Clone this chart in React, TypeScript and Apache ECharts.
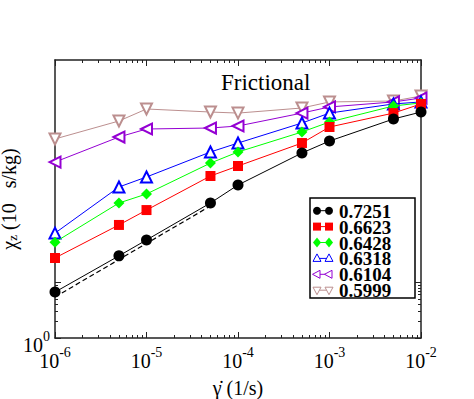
import React, { useEffect, useRef } from "react";
import * as echarts from "echarts";

// ---- data ----
const shearRates = [1e-6, 5e-6, 1e-5, 5e-5, 1e-4, 5e-4, 1e-3, 5e-3, 1e-2];
const chi7251 = [6.7, 30, 58, 268, 565, 2125, 3490, 8690, 11600];
const chi6623 = [27.5, 108, 200, 820, 1240, 3210, 6240, 11100, 16200];
const chi6428 = [53, 268, 389, 1400, 2215, 5070, 7670, 14900, 16900];
const chi6318 = [77, 520, 787, 2215, 3210, 7360, 11100, 16200, 17600];
const chi6104 = [1460, 4120, 5740, 5980, 6500, 11100, 14300, 17600, 20700];
const chi5999 = [3800, 8000, 13150, 11600, 11100, 13700, 17600, 18300, 22500];
const seriesNames = ["0.7251", "0.6623", "0.6428", "0.6318", "0.6104", "0.5999"];
const dashedRates = [1e-6, 5e-5];
const dashedChi = [5.46, 237];
const xTickExponents = [-6, -5, -4, -3, -2];
const yMajorTicks = [1, 10];
const yLabelTicks = [1];
const minorMultipliers = [2, 3, 4, 5, 6, 7, 8, 9];
const annotation = "Frictional";

const FONT = "Liberation Serif";

const seriesValues = [chi7251, chi6623, chi6428, chi6318, chi6104, chi5999];
const seriesStyle = [
  { color: "#000000", symbol: "circle", size: 11, rotate: 0, kind: "circle" },
  { color: "#ff0000", symbol: "rect", size: 10, rotate: 0, kind: "square" },
  { color: "#00ff00", symbol: "diamond", size: 11, rotate: 0, kind: "diamond" },
  { color: "#0000ff", symbol: "emptyTriangle", size: 11, rotate: 0, kind: "up" },
  { color: "#9400d3", symbol: "emptyTriangle", size: 11, rotate: 90, kind: "left" },
  { color: "#bc8f8f", symbol: "emptyTriangle", size: 11, rotate: 180, kind: "down" },
];

const xMinorTicks: number[] = [];
for (let i = 0; i < xTickExponents.length - 1; i++) {
  for (const m of minorMultipliers) xMinorTicks.push(m * Math.pow(10, xTickExponents[i]));
}
const yMinorTicks = minorMultipliers.slice();

const supRich = {
  b: { fontFamily: FONT, fontSize: 20, lineHeight: 26, verticalAlign: "bottom", color: "#000" },
  s: { fontFamily: FONT, fontSize: 14, lineHeight: 14, verticalAlign: "top", color: "#000" },
};

const AXIS_COLOR = "#222";

function marker(kind: string, cx: number, cy: number, color: string) {
  const r = 4;
  switch (kind) {
    case "circle":
      return { type: "circle", shape: { cx, cy, r }, style: { fill: color } };
    case "square":
      return { type: "rect", shape: { x: cx - r, y: cy - r, width: 2 * r, height: 2 * r }, style: { fill: color } };
    case "diamond":
      return { type: "polygon", shape: { points: [[cx, cy - 5], [cx + 4, cy], [cx, cy + 5], [cx - 4, cy]] }, style: { fill: color } };
    case "up":
      return { type: "polygon", shape: { points: [[cx, cy - 4.5], [cx + 4, cy + 3], [cx - 4, cy + 3]] }, style: { fill: "#fff", stroke: color, lineWidth: 1 } };
    case "left":
      return { type: "polygon", shape: { points: [[cx - 4.5, cy], [cx + 3, cy - 4], [cx + 3, cy + 4]] }, style: { fill: "#fff", stroke: color, lineWidth: 1 } };
    default:
      return { type: "polygon", shape: { points: [[cx, cy + 4.5], [cx + 4, cy - 3], [cx - 4, cy - 3]] }, style: { fill: "#fff", stroke: color, lineWidth: 1 } };
  }
}

function buildLegend() {
  const box = { x: 310, y: 198, w: 105, h: 100 };
  const firstY = 210.7;
  const rowH = 15.9;
  const children: any[] = [
    { type: "rect", shape: { x: box.x, y: box.y, width: box.w, height: box.h }, style: { fill: "#fff", stroke: "#000", lineWidth: 1.5 } },
  ];
  seriesNames.forEach((name, i) => {
    const y = firstY + i * rowH;
    const st = seriesStyle[i];
    children.push({ type: "line", shape: { x1: 317, y1: y, x2: 329, y2: y }, style: { stroke: st.color, lineWidth: 1 } });
    children.push(marker(st.kind, 317, y, st.color));
    children.push(marker(st.kind, 329, y, st.color));
    children.push({
      type: "text",
      x: 339,
      y: y + 0.5,
      style: {
        text: name,
        fontFamily: FONT,
        fontSize: 19,
        lineHeight: 15,
        fontWeight: "bold",
        fill: "#000",
        verticalAlign: "middle",
        align: "left",
      },
    });
  });
  return { type: "group", z: 100, children };
}

function makeXAxis(position: "top" | "bottom", major: boolean) {
  return {
    type: "log",
    logBase: 10,
    min: 1e-6,
    max: 1e-2,
    position,
    axisLine: { show: major, onZero: false, lineStyle: { color: AXIS_COLOR, width: 1.5 } },
    axisTick: major
      ? { show: true, inside: true, length: 6, lineStyle: { color: AXIS_COLOR, width: 1 } }
      : { show: true, inside: true, length: 3, customValues: xMinorTicks, lineStyle: { color: AXIS_COLOR, width: 1 } },
    splitLine: { show: false },
    minorTick: { show: false },
    axisLabel:
      major && position === "bottom"
        ? {
            show: true,
            margin: 7,
            formatter: (v: number) => `{b|10}{s|${Math.round(Math.log10(v))}}`,
            rich: supRich,
          }
        : { show: false },
    ...(major && position === "bottom"
      ? {
          name: "γ̇ (1/s)",
          nameLocation: "middle",
          nameGap: 40,
          nameMoveOverlap: false,
          nameTextStyle: { fontFamily: FONT, fontSize: 20, color: "#000" },
        }
      : {}),
  };
}

function makeYAxis(position: "left" | "right", major: boolean) {
  return {
    type: "log",
    logBase: 10,
    min: 1,
    max: 1e5,
    position,
    axisLine: { show: major, onZero: false, lineStyle: { color: AXIS_COLOR, width: 1.5 } },
    axisTick: major
      ? { show: true, inside: true, length: 6, customValues: yMajorTicks, lineStyle: { color: AXIS_COLOR, width: 1 } }
      : { show: true, inside: true, length: 3, customValues: yMinorTicks, lineStyle: { color: AXIS_COLOR, width: 1 } },
    splitLine: { show: false },
    minorTick: { show: false },
    axisLabel:
      major && position === "left"
        ? {
            show: true,
            margin: 5,
            padding: [8, 0, 0, 0],
            customValues: yLabelTicks,
            formatter: (v: number) => `{b|10}{s|${Math.round(Math.log10(v))}}`,
            rich: supRich,
          }
        : { show: false },
    ...(major && position === "left"
      ? {
          name: "χ{sub|z} (10{gap| }s/kg)",
          nameLocation: "middle",
          nameRotate: 90,
          nameGap: 36,
          nameMoveOverlap: false,
          nameTextStyle: {
            fontFamily: FONT,
            fontSize: 20,
            color: "#000",
            rich: {
              sub: { fontFamily: FONT, fontSize: 13, verticalAlign: "bottom", lineHeight: 13, color: "#000" },
              gap: { fontFamily: FONT, fontSize: 13, width: 15 },
            },
          },
        }
      : {}),
  };
}

export default function App() {
  const ref = useRef<HTMLDivElement>(null);
  useEffect(() => {
    if (!ref.current) return;
    const chart = echarts.init(ref.current, null, { renderer: "svg" });
    const series: any[] = [
      {
        name: "reference",
        type: "line",
        xAxisIndex: 0,
        yAxisIndex: 0,
        data: dashedRates.map((x, i) => [x, dashedChi[i]]),
        showSymbol: false,
        symbol: "none",
        lineStyle: { color: "#000", width: 1.2, type: [5, 3] },
        z: 2,
      },
    ];
    seriesValues.forEach((vals, i) => {
      const st = seriesStyle[i];
      series.push({
        name: seriesNames[i],
        type: "line",
        xAxisIndex: 0,
        yAxisIndex: 0,
        data: shearRates.map((x, j) => [x, vals[j]]),
        symbol: st.symbol,
        symbolSize: st.size,
        symbolRotate: st.rotate,
        itemStyle: { color: st.color, borderWidth: st.symbol.startsWith("empty") ? 1 : 0 },
        lineStyle: { color: st.color, width: 1 },
        z: 10 - i,
      });
    });
    chart.setOption({
      animation: false,
      backgroundColor: "#fff",
      grid: { left: 55, right: 53, top: 60, bottom: 61, containLabel: false, outerBoundsMode: "none" },
      xAxis: [makeXAxis("bottom", true), makeXAxis("top", true), makeXAxis("bottom", false), makeXAxis("top", false)],
      yAxis: [makeYAxis("left", true), makeYAxis("right", true), makeYAxis("left", false), makeYAxis("right", false)],
      series,
      graphic: [
        {
          type: "text",
          left: 221,
          top: 71,
          style: { text: annotation, fontFamily: FONT, fontSize: 23, fill: "#000" },
        },
        buildLegend(),
      ],
    });
    return () => chart.dispose();
  }, []);
  return <div ref={ref} style={{ position: "fixed", left: 0, top: 0, width: 474, height: 399 }} />;
}
